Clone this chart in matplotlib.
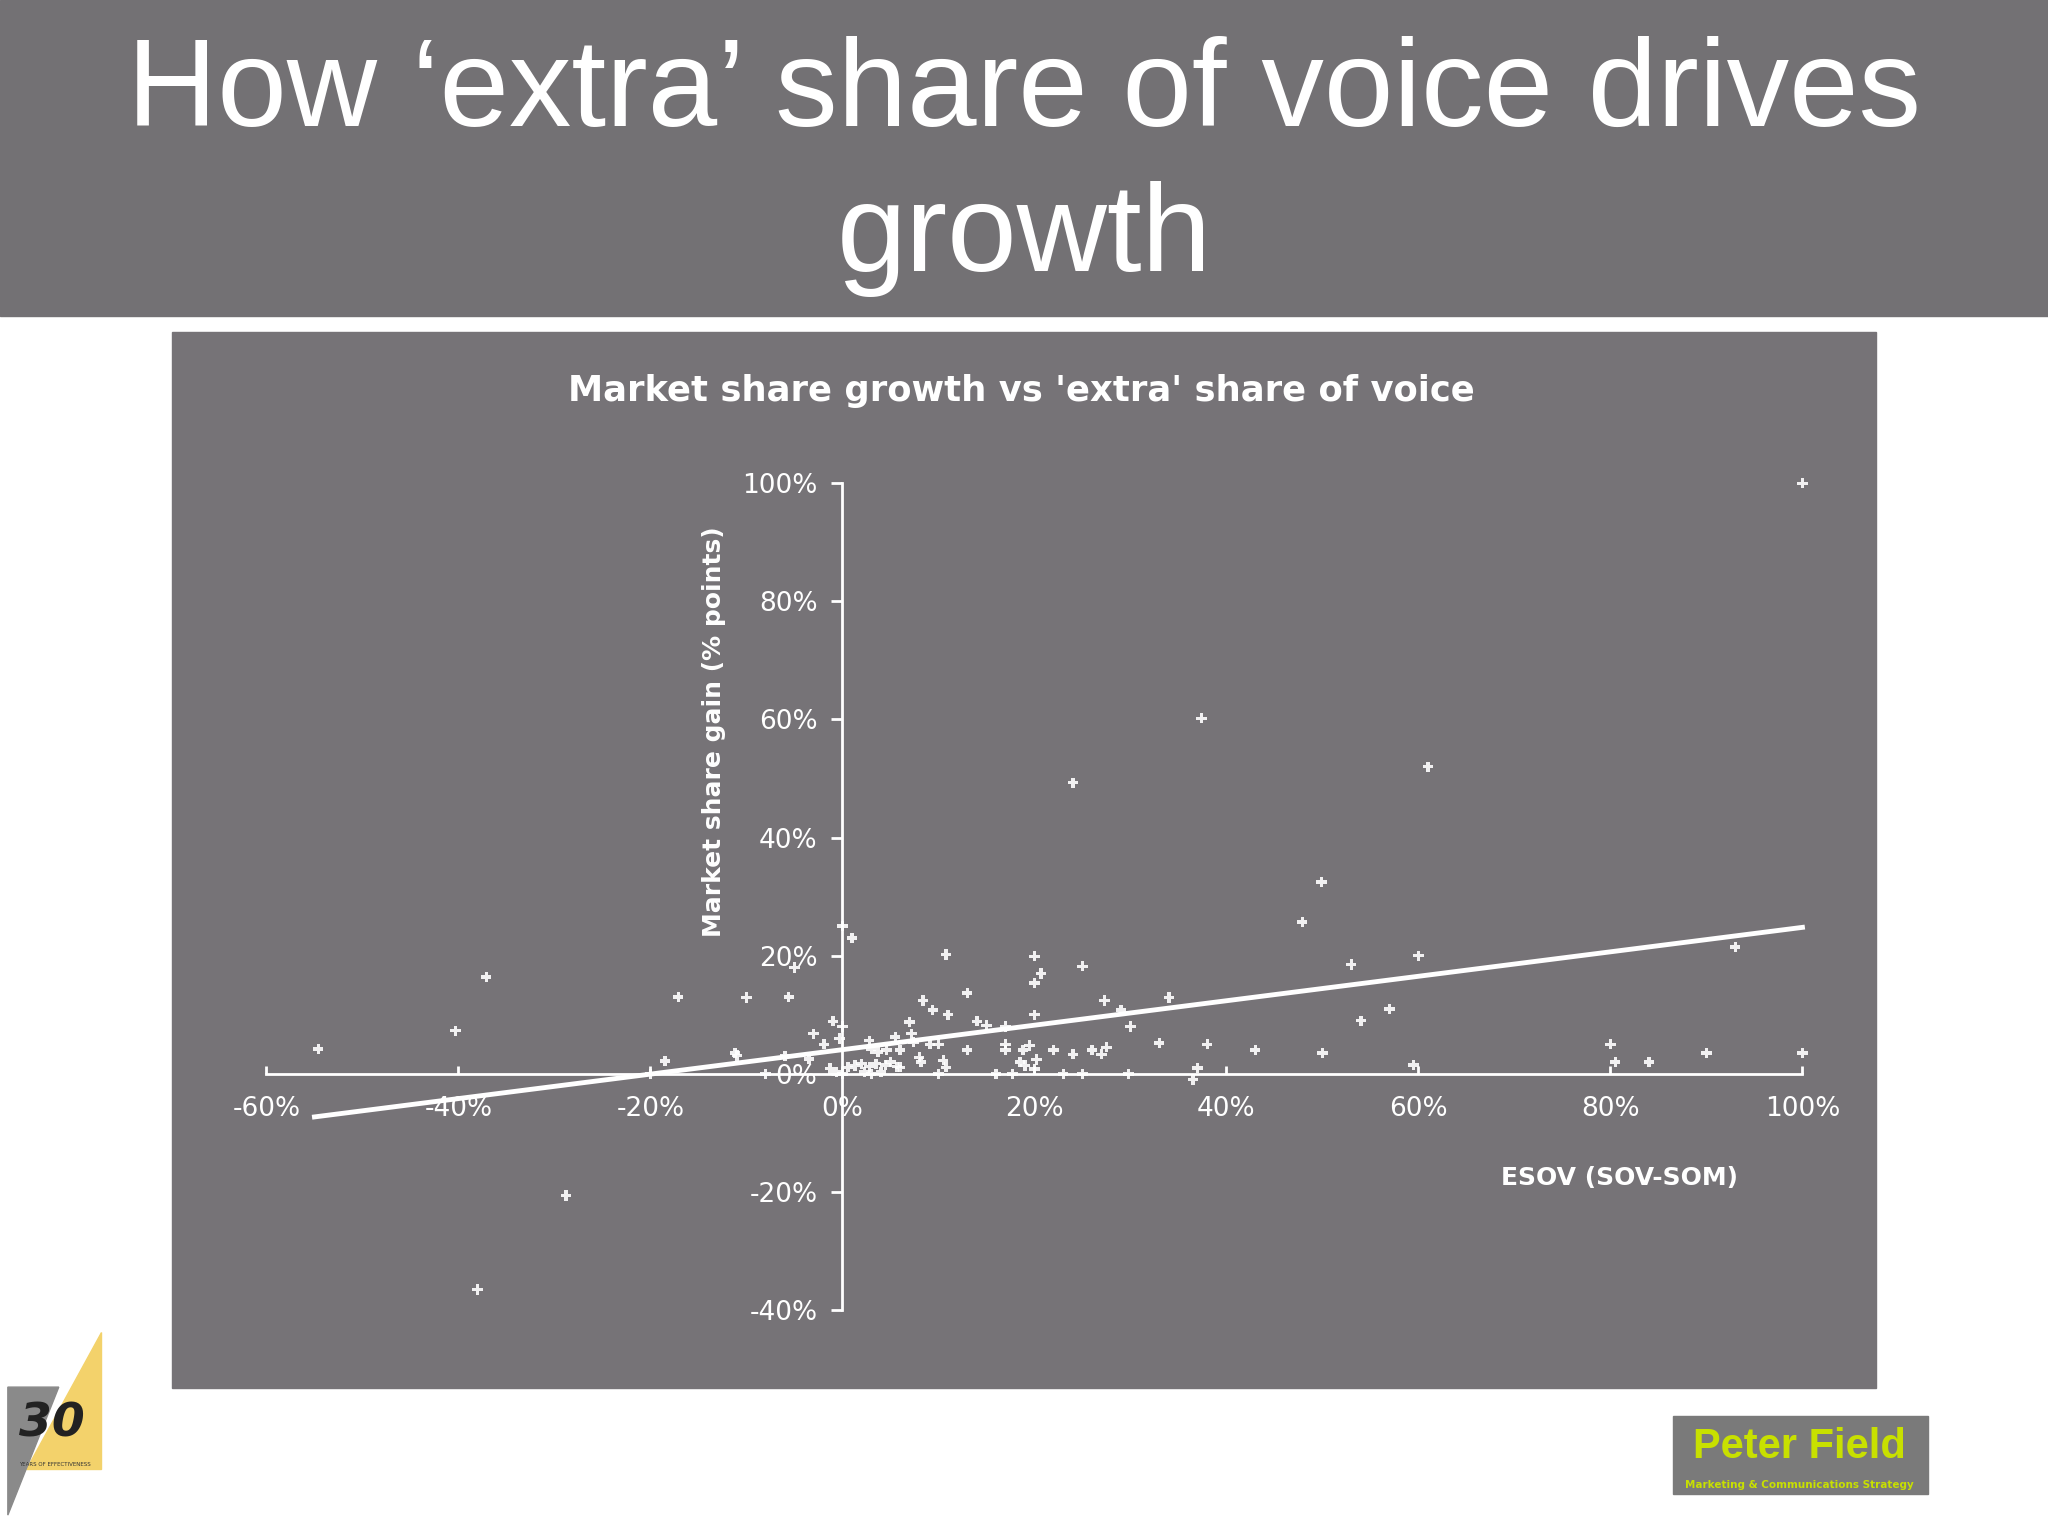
import matplotlib
matplotlib.use("Agg")
import matplotlib.pyplot as plt
from matplotlib.patches import Rectangle, Polygon

esov = [-54.6,-40.3,-37.1,-38,-28.8,-17.1,-18.5,-20,-11.2,-11,-10,-8,-6,-5.6,-5,-3.5,-3,-1.9,-1,0,-0.3,0,1,
        -1.3,-0.6,0,0.6,1.3,2,2.3,2.8,3,3.5,4,4.5,5,5.7,6,
        2.8,3,3.7,4.6,5.5,6,7,7.2,7.4,8,8.4,8.2,9.1,9.4,10,10,10.5,10.8,10.8,11,13,13,14,15,16,17,17,17,17.7,
        18.5,19,18.8,19.5,20,20.7,20,20,20.2,20,22,23,24,25,25,26,27,27.3,27.5,29,29.8,30,33,34,
        24,37.4,38,36.5,37,43,47.9,49.9,50,53,54,57,59.5,60,61,80,80.5,84,90,93,100,100]
gain = [4.2,7.3,16.4,-36.5,-20.6,13,2.2,0,3.5,3.1,12.9,0,3,13,18,2.5,6.8,5,8.9,8,6,25,23,
        0.9,0.3,0,1.1,1.4,1.7,0.3,1.2,0,1.7,0.3,1.5,2,1.2,1.1,
        5.6,4.2,3.7,4,6.2,4,8.8,6.8,5.4,2.8,12.4,2,5,10.8,5,0,2.3,1.1,20.2,10,13.7,4,8.9,8.2,0,8,5,4,0,
        2,1.4,4,4.8,19.9,17,15.4,10,2.4,0.8,4,0,3.3,18.2,0,4,3.3,12.4,4.5,10.8,0,8,5.2,12.9,
        49.3,60.2,5,-1,1,4,25.7,32.5,3.5,18.5,9,11,1.5,20,52,5,2,2,3.5,21.5,100,3.5]
trend_x = [-55, 100]
trend_y = [-7.3, 24.8]
xticks = [-60,-40,-20,0,20,40,60,80,100]
yticks = [-40,-20,0,20,40,60,80,100]

W, H = 1568, 1176
fig = plt.figure(figsize=(20.48, 15.36), dpi=100)
fig.patch.set_facecolor("white")
gray = "#767377"
def fx(x): return x / W
def fy(y): return 1 - y / H

fig.patches.append(Rectangle((0, fy(242)), 1, 242 / H, transform=fig.transFigure, color="#737174", zorder=0))
fig.patches.append(Rectangle((fx(132), fy(1063)), (1436-132)/W, (1063-254)/H, transform=fig.transFigure, color=gray, zorder=0))
fig.text(0.5, fy(72), "How \u2018extra\u2019 share of voice drives", ha="center", va="center", color="white",
         fontsize=90, family="Liberation Sans")
fig.text(0.5, fy(183), "growth", ha="center", va="center", color="white", fontsize=90, family="Liberation Sans")
fig.text(fx(782), fy(299), "Market share growth vs 'extra' share of voice", ha="center", va="center",
         color="white", fontsize=25.5, fontweight="bold", family="DejaVu Sans")

ax = fig.add_axes([fx(204), fy(1003), (1380-204)/W, (1003-370)/H], zorder=5)
ax.set_facecolor("none")
ax.set_xlim(-60, 100); ax.set_ylim(-40, 100)
for s in ["top", "right"]:
    ax.spines[s].set_visible(False)
ax.spines["left"].set_position(("data", 0))
ax.spines["bottom"].set_position(("data", 0))
for s in ["left", "bottom"]:
    ax.spines[s].set_color("white"); ax.spines[s].set_linewidth(2)
ax.set_xticks(xticks); ax.set_yticks(yticks)
ax.set_xticklabels([f"{t}%" for t in xticks])
ax.set_yticklabels([f"{t}%" for t in yticks])
ax.tick_params(axis="x", colors="white", labelsize=19, length=6, width=2, direction="in", pad=16)
ax.tick_params(axis="y", colors="white", labelsize=19, length=8, width=2, direction="out", pad=10)
ax.plot(trend_x, trend_y, color="white", lw=3.5, zorder=2, clip_on=False)
ax.scatter(esov, gain, marker="P", s=55, color="white", edgecolors="none", alpha=0.9, zorder=3, clip_on=False)
fig.text(fx(547), fy(560), "Market share gain (% points)", rotation=90, ha="center", va="center",
         color="white", fontsize=18, fontweight="bold")
fig.text(fx(1240), fy(902), "ESOV (SOV-SOM)", ha="center", va="center", color="white", fontsize=18, fontweight="bold")

# Peter Field logo
fig.patches.append(Rectangle((fx(1281), fy(1144)), 195/W, 60/H, transform=fig.transFigure, color="#7a7a7a"))
fig.text(fx(1378), fy(1108), "Peter Field", ha="center", va="center", color="#c8e000", fontsize=30,
         fontweight="bold", family="Liberation Sans")
fig.text(fx(1378), fy(1137), "Marketing & Communications Strategy", ha="center", va="center", color="#c8e000",
         fontsize=7.5, fontweight="bold")
# 30 logo
fig.patches.append(Polygon([[fx(77), fy(1020)], [fx(77), fy(1125)], [fx(20), fy(1125)]], closed=True,
                           transform=fig.transFigure, color="#f3d26b"))
fig.patches.append(Polygon([[fx(6), fy(1062)], [fx(45), fy(1062)], [fx(6), fy(1160)]], closed=True,
                           transform=fig.transFigure, color="#8a8a8a"))
fig.text(fx(40), fy(1090), "30", ha="center", va="center", fontsize=34, fontweight="bold", color="#222222",
         style="italic")
fig.text(fx(42), fy(1121), "YEARS OF EFFECTIVENESS", ha="center", va="center", fontsize=4, color="#333333")
fig.savefig("out.png", dpi=100)
